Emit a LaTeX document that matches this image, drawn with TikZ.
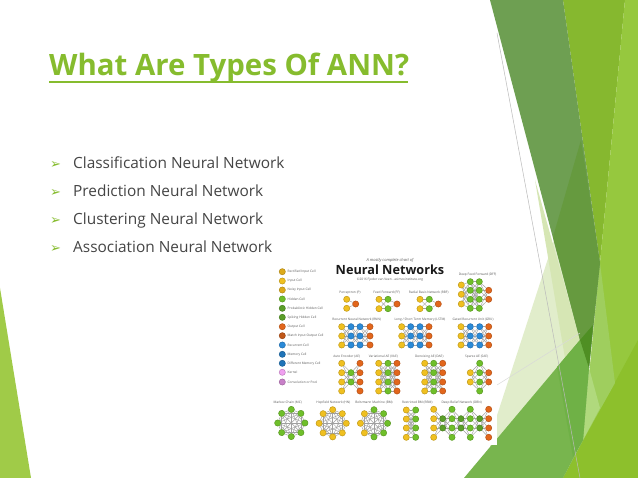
\documentclass[tikz,border=0pt]{standalone}
\usepackage{fontspec}
\setmainfont{Open Sans}
\newfontfamily\dingfont{DejaVu Sans}
\pgfdeclarelayer{facets}
\pgfdeclarelayer{links}
\pgfsetlayers{facets,links,main}
\definecolor{yel}{HTML}{F0C020}
\definecolor{gold}{HTML}{DDAA1A}
\definecolor{grn}{HTML}{6FBF2A}
\definecolor{dgrn}{HTML}{5A9E28}
\definecolor{org}{HTML}{E2661C}
\definecolor{blu}{HTML}{2A8AD8}
\definecolor{dblu}{HTML}{1F74B8}
\definecolor{pnk}{HTML}{F0A0F0}
\definecolor{pur}{HTML}{C880C8}
\definecolor{titlegreen}{HTML}{86BC2E}
\definecolor{bodygray}{HTML}{454545}
\definecolor{linkgray}{HTML}{A0A0A0}
\definecolor{fLeft}{HTML}{A0CB48}
\definecolor{fRight}{HTML}{96C83E}
\definecolor{fTop}{HTML}{86B82F}
\definecolor{fDark}{HTML}{6E9F52}
\definecolor{fDarkLow}{HTML}{669A3F}
\definecolor{fDeep}{HTML}{4F8F23}
\definecolor{fMid}{HTML}{78B54E}
\definecolor{fMidIn}{HTML}{6FB146}
\definecolor{fLow}{HTML}{8DC02C}
\definecolor{fPaleA}{HTML}{E1EDCB}
\definecolor{fPaleB}{HTML}{D6E6B4}
\definecolor{fGlassA}{HTML}{9FCE5E}
\definecolor{fGlassB}{HTML}{B0D97D}
\tikzset{
  cellnode/.style={circle,inner sep=0pt,minimum size=6.2pt,line width=0.5pt},
  linkline/.style={draw=linkgray,line width=0.45pt},
  tinylabel/.style={inner sep=0pt,text=black!65,font=\fontsize{3.2}{3.8}\selectfont},
  legendlabel/.style={tinylabel,anchor=west},
  bullettext/.style={anchor=base west,inner sep=0pt,text=bodygray,font=\fontsize{15.4}{18}\selectfont},
  bulletmark/.style={anchor=base west,inner sep=0pt,text=titlegreen,font=\dingfont\fontsize{13}{14}\selectfont},
  guide/.style={draw=black!27,line width=0.5pt},
}
\newcommand\cell[4]{\node[cellnode,fill=#4,draw=#4!80!black] (#1) at (#2,#3) {};}
\newcommand\layer[4]{\foreach \yy [count=\kk] in {#3} {\cell{#1\kk}{#2}{\yy}{#4}}}
\newcommand\joinall[4]{\begin{pgfonlayer}{links}\foreach \ii in {1,...,#2} \foreach \jj in {1,...,#4} {\draw[linkline] (#1\ii) -- (#3\jj);}\end{pgfonlayer}}
\newcommand\ring[5]{%
  \foreach \aa [count=\kk] in {90,45,0,-45,-90} {%
    \pgfmathsetmacro\px{#2+13.6*cos(\aa)}\pgfmathsetmacro\py{#3+13.6*sin(\aa)}%
    \cell{#1\kk}{\px}{\py}{#4}}%
  \foreach \aa [count=\kk from 6] in {-135,180,135} {%
    \pgfmathsetmacro\px{#2+13.6*cos(\aa)}\pgfmathsetmacro\py{#3+13.6*sin(\aa)}%
    \cell{#1\kk}{\px}{\py}{#5}}%
  \begin{pgfonlayer}{links}
  \foreach \ii in {1,...,7} {\pgfmathtruncatemacro\nx{\ii+1}\foreach \jj in {\nx,...,8} {\draw[linkline] (#1\ii) -- (#1\jj);}}
  \end{pgfonlayer}}
\begin{document}
\begin{tikzpicture}[x=1pt,y=-1pt]
\useasboundingbox (0,0) rectangle (638,478);
\begin{pgfonlayer}{facets}
\fill[white] (0,0) rectangle (638,478);
\fill[fLeft] (0,288) -- (15,380) -- (31,478) -- (0,478) -- cycle;
\fill[fPaleA] (555,237) -- (490,437) -- (490,450) -- (580,340) -- cycle;
\fill[fPaleB] (535,180) -- (580,340) -- (565,358) -- cycle;
\fill[fTop] (563,0) -- (625,0) -- (600,263) -- cycle;
\fill[fRight] (625,0) -- (638,0) -- (638,478) -- (563,478) -- (583,440) -- (600,263) -- cycle;
\fill[fLow] (638,340) -- (638,478) -- (563,478) -- cycle;
\fill[fGlassA] (600,263) -- (615,383) -- (583,440) -- cycle;
\fill[fGlassB] (589,368) -- (600,408) -- (583,440) -- cycle;
\fill[fDark] (490,0) -- (563,0) -- (600,263) -- (589,368) -- (580,340) -- cycle;
\fill[fDarkLow] (581,140) -- (600,263) -- (589,368) -- (580,340) -- (553,237) -- cycle;
\fill[fMid] (464,478) -- (490,447) -- (580,340) -- (589,368) -- (583,440) -- (563,478) -- cycle;
\fill[fMidIn] (557,367) -- (580,340) -- (589,368) -- (583,440) -- (573,457) -- cycle;
\fill[fDeep] (580,340) -- (593,325) -- (589,368) -- cycle;
\coordinate (lineAstart) at (497,33);
\coordinate (lineAend) at (580,478);
\coordinate (lineBstart) at (497,385);
\coordinate (lineBend) at (580,333);
\draw[guide] (lineAstart) -- (lineAend);
\draw[guide,draw=black!15] (lineBstart) -- (lineBend);
\fill[white] (270,262) rectangle (497,445);
\end{pgfonlayer}

% title
\node[anchor=base west,inner sep=0pt,text=titlegreen,font=\fontsize{29.4}{34}\selectfont\bfseries] (title) at (49,76) {What Are Types Of ANN?};
\coordinate (ruleL) at (49,82);
\coordinate (ruleR) at (408,82);
\draw[titlegreen,line width=2.6pt] (ruleL) -- (ruleR);

% bullets
\node[bulletmark] (m1) at (50,168.5) {➢};
\node[bulletmark] (m2) at (50,196.7) {➢};
\node[bulletmark] (m3) at (50,225) {➢};
\node[bulletmark] (m4) at (50,253) {➢};
\node[bullettext] (b1) at (73,168.5) {Classification Neural Network};
\node[bullettext] (b2) at (73,196.7) {Prediction Neural Network};
\node[bullettext] (b3) at (73,225) {Clustering Neural Network};
\node[bullettext] (b4) at (73,253) {Association Neural Network};

% chart heading
\node[tinylabel,font=\fontsize{4}{5}\selectfont\itshape] (ch1) at (390,260) {A mostly complete chart of};
\node[inner sep=0pt,font=\fontsize{12.7}{15}\selectfont\bfseries,text=black!90] (ch2) at (390,270) {Neural Networks};
\node[tinylabel] (ch3) at (390,280) {©2016 Fjodor van Veen - asimovinstitute.org};

% legend
\foreach \nm/\yy/\cc/\tt in {a/271.7/gold/Rectified Input Cell,b/281/yel/Input Cell,c/290/gold/Noisy Input Cell,d/299/grn/Hidden Cell,e/308.3/dgrn/Probablistic Hidden Cell,f/317.3/dgrn/Spiking Hidden Cell,g/326.7/org/Output Cell,h/335.7/org!85!black/Match Input Output Cell,i/345/blu/Recurrent Cell,j/354.3/dblu/Memory Cell,k/363.3/dblu/Different Memory Cell,l/372.3/pnk/Kernel,m/382/pur/Convolution or Pool} {
  \cell{leg\nm}{282.3}{\yy}{\cc}
  \node[legendlabel] (legt\nm) at (287.5,\yy) {\tt};
}

% row 1
\node[tinylabel] (lP) at (350,292.7) {Perceptron (P)};
\layer{p-a}{346.7}{299.3,308.3}{yel}
\layer{p-b}{355.7}{304}{org}
\joinall{p-a}{2}{p-b}{1}

\node[tinylabel] (lFF) at (386.7,292.7) {Feed Forward (FF)};
\layer{ff-a}{379}{299.3,308.7}{yel}
\layer{ff-b}{388}{299.3,308.7}{grn}
\layer{ff-c}{397}{304}{org}
\joinall{ff-a}{2}{ff-b}{2}
\joinall{ff-b}{2}{ff-c}{1}

\node[tinylabel] (lRBF) at (428.7,292.7) {Radial Basis Network (RBF)};
\layer{rb-a}{420}{299.3,308.7}{yel}
\layer{rb-b}{429.3}{299.3,308.7}{grn}
\layer{rb-c}{438.3}{304}{org}
\joinall{rb-a}{2}{rb-b}{2}
\joinall{rb-b}{2}{rb-c}{1}

\node[tinylabel] (lDFF) at (477.7,274.3) {Deep Feed Forward (DFF)};
\layer{df-a}{461.3}{285,294.3,304}{yel}
\layer{df-b}{470.3}{281.7,290.3,299.3,308.3}{grn}
\layer{df-c}{479.3}{281.7,290.3,299.3,308.3}{grn}
\layer{df-d}{488.7}{290.3,299.3}{org}
\joinall{df-a}{3}{df-b}{4}
\joinall{df-b}{4}{df-c}{4}
\joinall{df-c}{4}{df-d}{2}

% row 2
\node[tinylabel] (lRNN) at (356.7,320) {Recurrent Neural Network (RNN)};
\layer{rn-a}{341.7}{326.7,336,345}{yel}
\layer{rn-b}{351}{326.7,336,345}{blu}
\layer{rn-c}{360}{326.7,336,345}{blu}
\layer{rn-d}{370}{326.7,336,345}{org}
\joinall{rn-a}{3}{rn-b}{3}
\joinall{rn-b}{3}{rn-c}{3}
\joinall{rn-c}{3}{rn-d}{3}

\node[tinylabel] (lLSTM) at (420,320) {Long / Short Term Memory (LSTM)};
\layer{ls-a}{401.7}{326.7,336,345}{yel}
\layer{ls-b}{410.7}{326.7,336,345}{blu}
\layer{ls-c}{420}{326.7,336,345}{blu}
\layer{ls-d}{429}{326.7,336,345}{org}
\joinall{ls-a}{3}{ls-b}{3}
\joinall{ls-b}{3}{ls-c}{3}
\joinall{ls-c}{3}{ls-d}{3}

\node[tinylabel] (lGRU) at (473,320) {Gated Recurrent Unit (GRU)};
\layer{gr-a}{461}{326.7,336,345}{yel}
\layer{gr-b}{470.3}{326.7,336,345}{blu}
\layer{gr-c}{479.7}{326.7,336,345}{blu}
\layer{gr-d}{488.7}{326.7,336,345}{org}
\joinall{gr-a}{3}{gr-b}{3}
\joinall{gr-b}{3}{gr-c}{3}
\joinall{gr-c}{3}{gr-d}{3}

% row 3
\node[tinylabel] (lAE) at (346.7,356.7) {Auto Encoder (AE)};
\layer{ae-a}{341.7}{363.3,372.7,382,391}{yel}
\layer{ae-b}{351}{372.7,382}{grn}
\layer{ae-c}{360}{363.3,372.7,382,391}{org}
\joinall{ae-a}{4}{ae-b}{2}
\joinall{ae-b}{2}{ae-c}{4}

\node[tinylabel] (lVAE) at (383.3,356.7) {Variational AE (VAE)};
\layer{va-a}{378.7}{363.3,372.7,382,391}{yel}
\layer{va-b}{388}{363.3,372.7,382,391}{grn}
\layer{va-c}{397}{363.3,372.7,382,391}{org}
\joinall{va-a}{4}{va-b}{4}
\joinall{va-b}{4}{va-c}{4}

\node[tinylabel] (lDAE) at (429.3,356.7) {Denoising AE (DAE)};
\layer{da-a}{424.7}{363.3,372.7,382,391}{yel}
\layer{da-b}{433.7}{363.3,372.7,382,391}{grn}
\layer{da-c}{442.7}{363.3,372.7,382,391}{org}
\joinall{da-a}{4}{da-b}{4}
\joinall{da-b}{4}{da-c}{4}

\node[tinylabel] (lSAE) at (476.7,356.7) {Sparse AE (SAE)};
\layer{sa-a}{470.3}{372.7,382}{yel}
\layer{sa-b}{479.7}{363.3,372.7,382,391}{grn}
\layer{sa-c}{488.7}{372.7,382}{org}
\joinall{sa-a}{2}{sa-b}{4}
\joinall{sa-b}{4}{sa-c}{2}

% row 4
\node[tinylabel] (lMC) at (287.7,402.3) {Markov Chain (MC)};
\ring{mc}{291.3}{423}{grn}{grn}
\node[tinylabel] (lHN) at (333.3,402.3) {Hopfield Network (HN)};
\ring{hn}{332.7}{423.3}{yel}{yel}
\node[tinylabel] (lBM) at (374,402.3) {Boltzmann Machine (BM)};
\ring{bm}{374}{423.3}{grn}{yel}

\node[tinylabel] (lRBM) at (417.3,402.3) {Restricted BM (RBM)};
\layer{rm-a}{406.3}{410,419,428,437.3}{yel}
\layer{rm-b}{415.7}{410,419,428,437.3}{grn}
\joinall{rm-a}{4}{rm-b}{4}

\node[tinylabel] (lDBN) at (461.7,402.3) {Deep Belief Network (DBN)};
\layer{db-a}{433.7}{409.3,418.7,428,437.3}{yel}
\layer{db-b}{442.7}{418.7,428}{dgrn}
\layer{db-c}{452}{409.3,418.7,428,437.3}{grn}
\layer{db-d}{461}{418.7,428}{dgrn}
\layer{db-e}{470.3}{409.3,418.7,428,437.3}{grn}
\layer{db-f}{479.7}{418.7,428}{dgrn}
\layer{db-g}{488.7}{409.3,418.7,428,437.3}{org}
\joinall{db-a}{4}{db-b}{2}
\joinall{db-b}{2}{db-c}{4}
\joinall{db-c}{4}{db-d}{2}
\joinall{db-d}{2}{db-e}{4}
\joinall{db-e}{4}{db-f}{2}
\joinall{db-f}{2}{db-g}{4}
\end{tikzpicture}
\end{document}
